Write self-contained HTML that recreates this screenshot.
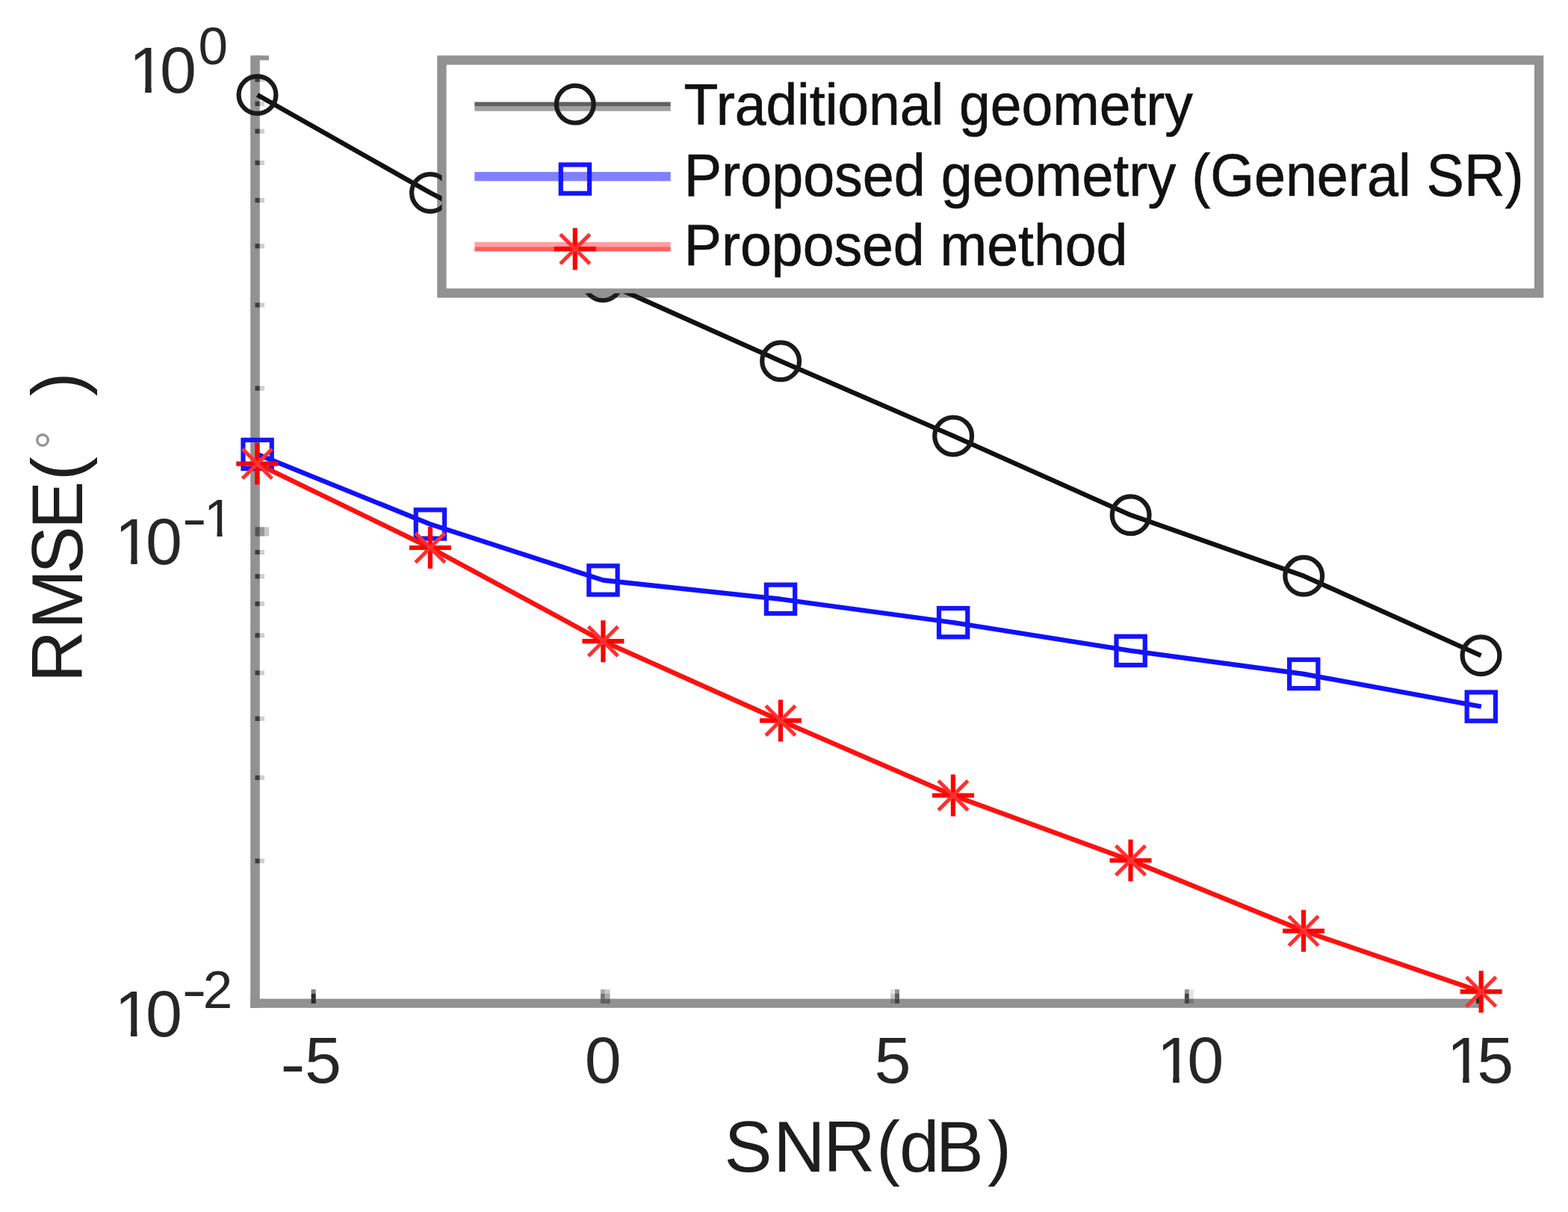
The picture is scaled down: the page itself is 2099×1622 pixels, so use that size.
<!DOCTYPE html>
<html><head><meta charset="utf-8"><title>RMSE vs SNR</title><style>
html,body{margin:0;padding:0;background:#fff;width:2099px;height:1622px}
svg{display:block}
text{font-family:"Liberation Sans",Arial,Helvetica,sans-serif;fill:#262626}
</style></head><body>
<svg width="2099" height="1622" viewBox="0 0 2099 1622">
<rect width="2099" height="1622" fill="#fff"/>
<g id="axes">
<rect x="335.2" y="74.3" width="12.6" height="1274.5" fill="#929292"/>
<rect x="335.2" y="1336.6" width="1647" height="12.2" fill="#929292"/>
<rect x="416.6" y="1324.1" width="6.1" height="5.9" fill="#808080"/><rect x="416.6" y="1330.0" width="6.1" height="6.7" fill="#2a2a2a"/><rect x="416.6" y="1336.7" width="6.1" height="6.2" fill="#2a2a2a"/><rect x="804.0" y="1324.1" width="6.3" height="5.9" fill="#aaaaaa"/><rect x="804.0" y="1330.0" width="6.3" height="6.7" fill="#777777"/><rect x="804.0" y="1336.7" width="6.3" height="6.2" fill="#5e5e5e"/><rect x="810.3" y="1324.1" width="6.3" height="5.9" fill="#c8c8c8"/><rect x="810.3" y="1330.0" width="6.3" height="6.7" fill="#aaaaaa"/><rect x="810.3" y="1336.7" width="6.3" height="6.2" fill="#5e5e5e"/><rect x="1192.1" y="1324.1" width="5.9" height="5.9" fill="#e3e3e3"/><rect x="1192.1" y="1330.0" width="5.9" height="6.7" fill="#c8c8c8"/><rect x="1192.1" y="1336.7" width="5.9" height="6.2" fill="#777777"/><rect x="1198.0" y="1324.1" width="5.9" height="5.9" fill="#8e8e8e"/><rect x="1198.0" y="1330.0" width="5.9" height="6.7" fill="#5c5c5c"/><rect x="1198.0" y="1336.7" width="5.9" height="6.2" fill="#424242"/><rect x="1585.9" y="1324.1" width="5.9" height="5.9" fill="#8e8e8e"/><rect x="1585.9" y="1330.0" width="5.9" height="6.7" fill="#424242"/><rect x="1585.9" y="1336.7" width="5.9" height="6.2" fill="#424242"/><rect x="1591.8" y="1324.1" width="6.1" height="5.9" fill="#e3e3e3"/><rect x="1591.8" y="1330.0" width="6.1" height="6.7" fill="#e3e3e3"/><rect x="1591.8" y="1336.7" width="6.1" height="6.2" fill="#777777"/><rect x="1976.0" y="1324.1" width="6.0" height="5.9" fill="#808080"/><rect x="1976.0" y="1330.0" width="6.0" height="6.7" fill="#2a2a2a"/><rect x="1976.0" y="1336.7" width="6.0" height="6.2" fill="#2a2a2a"/>
<rect x="341.5" y="74.3" width="18.5" height="6.3" fill="#929292"/>
<rect x="341.5" y="705.3" width="6.3" height="12.3" fill="#555"/><rect x="347.8" y="705.3" width="6.3" height="12.3" fill="#999"/><rect x="354.1" y="705.3" width="6" height="12.3" fill="#c8c8c8"/>
<rect x="341.5" y="516.6" width="6.3" height="6.2" fill="#3c3c3c"/><rect x="347.8" y="516.6" width="6.2" height="6.2" fill="#cfcfcf"/>
<rect x="341.5" y="405.2" width="6.3" height="6.2" fill="#3c3c3c"/><rect x="347.8" y="405.2" width="6.2" height="6.2" fill="#cfcfcf"/>
<rect x="341.5" y="326.2" width="6.3" height="6.2" fill="#3c3c3c"/><rect x="347.8" y="326.2" width="6.2" height="6.2" fill="#cfcfcf"/>
<rect x="341.5" y="264.9" width="6.3" height="6.2" fill="#3c3c3c"/><rect x="347.8" y="264.9" width="6.2" height="6.2" fill="#cfcfcf"/>
<rect x="341.5" y="214.8" width="6.3" height="6.2" fill="#3c3c3c"/><rect x="347.8" y="214.8" width="6.2" height="6.2" fill="#cfcfcf"/>
<rect x="341.5" y="172.5" width="6.3" height="6.2" fill="#3c3c3c"/><rect x="347.8" y="172.5" width="6.2" height="6.2" fill="#cfcfcf"/>
<rect x="341.5" y="135.8" width="6.3" height="6.2" fill="#3c3c3c"/><rect x="347.8" y="135.8" width="6.2" height="6.2" fill="#cfcfcf"/>
<rect x="341.5" y="103.4" width="6.3" height="6.2" fill="#3c3c3c"/><rect x="347.8" y="103.4" width="6.2" height="6.2" fill="#cfcfcf"/>
<rect x="341.5" y="1149.1" width="6.3" height="6.2" fill="#3c3c3c"/><rect x="347.8" y="1149.1" width="6.2" height="6.2" fill="#cfcfcf"/>
<rect x="341.5" y="1037.7" width="6.3" height="6.2" fill="#3c3c3c"/><rect x="347.8" y="1037.7" width="6.2" height="6.2" fill="#cfcfcf"/>
<rect x="341.5" y="958.7" width="6.3" height="6.2" fill="#3c3c3c"/><rect x="347.8" y="958.7" width="6.2" height="6.2" fill="#cfcfcf"/>
<rect x="341.5" y="897.4" width="6.3" height="6.2" fill="#3c3c3c"/><rect x="347.8" y="897.4" width="6.2" height="6.2" fill="#cfcfcf"/>
<rect x="341.5" y="847.3" width="6.3" height="6.2" fill="#3c3c3c"/><rect x="347.8" y="847.3" width="6.2" height="6.2" fill="#cfcfcf"/>
<rect x="341.5" y="805.0" width="6.3" height="6.2" fill="#3c3c3c"/><rect x="347.8" y="805.0" width="6.2" height="6.2" fill="#cfcfcf"/>
<rect x="341.5" y="768.3" width="6.3" height="6.2" fill="#3c3c3c"/><rect x="347.8" y="768.3" width="6.2" height="6.2" fill="#cfcfcf"/>
<rect x="341.5" y="735.9" width="6.3" height="6.2" fill="#3c3c3c"/><rect x="347.8" y="735.9" width="6.2" height="6.2" fill="#cfcfcf"/>
</g>
<polyline points="344.5,127 576,258 807,377 1045.1,483.3 1276.1,583.4 1513.6,689.3 1745.2,770.8 1982.5,877.3" fill="none" stroke="#111" stroke-width="6.4" stroke-linejoin="round"/>
<g><circle cx="344.5" cy="127" r="24.9" fill="none" stroke="#1a1a1a" stroke-width="6.2"/><circle cx="576" cy="258" r="24.9" fill="none" stroke="#1a1a1a" stroke-width="6.2"/><circle cx="807" cy="377" r="24.9" fill="none" stroke="#1a1a1a" stroke-width="6.2"/><circle cx="1045.1" cy="483.3" r="24.9" fill="none" stroke="#1a1a1a" stroke-width="6.2"/><circle cx="1276.1" cy="583.4" r="24.9" fill="none" stroke="#1a1a1a" stroke-width="6.2"/><circle cx="1513.6" cy="689.3" r="24.9" fill="none" stroke="#1a1a1a" stroke-width="6.2"/><circle cx="1745.2" cy="770.8" r="24.9" fill="none" stroke="#1a1a1a" stroke-width="6.2"/><circle cx="1982.5" cy="877.3" r="24.9" fill="none" stroke="#1a1a1a" stroke-width="6.2"/></g>
<polyline points="344.6,608 575.9,701.5 807.5,776.5 1045,801.8 1276.1,833.2 1513.6,870.9 1745.2,902 1982.8,945.6" fill="none" stroke="#1010ff" stroke-width="6.4" stroke-linejoin="round"/>
<g><rect x="325.45" y="588.85" width="38.3" height="38.3" fill="none" stroke="#1515ff" stroke-width="6.2"/><rect x="556.75" y="682.35" width="38.3" height="38.3" fill="none" stroke="#1515ff" stroke-width="6.2"/><rect x="788.35" y="757.35" width="38.3" height="38.3" fill="none" stroke="#1515ff" stroke-width="6.2"/><rect x="1025.85" y="782.65" width="38.3" height="38.3" fill="none" stroke="#1515ff" stroke-width="6.2"/><rect x="1256.95" y="814.05" width="38.3" height="38.3" fill="none" stroke="#1515ff" stroke-width="6.2"/><rect x="1494.45" y="851.75" width="38.3" height="38.3" fill="none" stroke="#1515ff" stroke-width="6.2"/><rect x="1726.05" y="882.85" width="38.3" height="38.3" fill="none" stroke="#1515ff" stroke-width="6.2"/><rect x="1963.65" y="926.45" width="38.3" height="38.3" fill="none" stroke="#1515ff" stroke-width="6.2"/></g>
<polyline points="344.3,620.6 575.9,733 807.4,858.2 1044.9,964.4 1275.9,1064.5 1513.5,1151.5 1745,1245.8 1982.7,1327.2" fill="none" stroke="#ff1010" stroke-width="6.4" stroke-linejoin="round"/>
<g><path d="M344.3,592.6V648.6M316.3,620.6H372.3" stroke="#ff0000" stroke-width="6.2" fill="none"/><path d="M324.5,600.8L364.1,640.4M324.5,640.4L364.1,600.8" stroke="#ff3030" stroke-width="5" fill="none"/><path d="M575.9,705V761M547.9,733H603.9" stroke="#ff0000" stroke-width="6.2" fill="none"/><path d="M556.1,713.2L595.7,752.8M556.1,752.8L595.7,713.2" stroke="#ff3030" stroke-width="5" fill="none"/><path d="M807.4,830.2V886.2M779.4,858.2H835.4" stroke="#ff0000" stroke-width="6.2" fill="none"/><path d="M787.6,838.4L827.2,878.0M787.6,878.0L827.2,838.4" stroke="#ff3030" stroke-width="5" fill="none"/><path d="M1044.9,936.4V992.4M1016.9000000000001,964.4H1072.9" stroke="#ff0000" stroke-width="6.2" fill="none"/><path d="M1025.1,944.6L1064.7,984.2M1025.1,984.2L1064.7,944.6" stroke="#ff3030" stroke-width="5" fill="none"/><path d="M1275.9,1036.5V1092.5M1247.9,1064.5H1303.9" stroke="#ff0000" stroke-width="6.2" fill="none"/><path d="M1256.1,1044.7L1295.7,1084.3M1256.1,1084.3L1295.7,1044.7" stroke="#ff3030" stroke-width="5" fill="none"/><path d="M1513.5,1123.5V1179.5M1485.5,1151.5H1541.5" stroke="#ff0000" stroke-width="6.2" fill="none"/><path d="M1493.7,1131.7L1533.3,1171.3M1493.7,1171.3L1533.3,1131.7" stroke="#ff3030" stroke-width="5" fill="none"/><path d="M1745,1217.8V1273.8M1717,1245.8H1773" stroke="#ff0000" stroke-width="6.2" fill="none"/><path d="M1725.2,1226.0L1764.8,1265.6M1725.2,1265.6L1764.8,1226.0" stroke="#ff3030" stroke-width="5" fill="none"/><path d="M1982.7,1299.2V1355.2M1954.7,1327.2H2010.7" stroke="#ff0000" stroke-width="6.2" fill="none"/><path d="M1962.9,1307.4L2002.5,1347.0M1962.9,1347.0L2002.5,1307.4" stroke="#ff3030" stroke-width="5" fill="none"/></g>
<rect x="591.4" y="80.5" width="1468.7" height="311.8" fill="#fff" stroke="#929292" stroke-width="12.4"/>
<rect x="635.3" y="136.5" width="262.4" height="6.1" fill="#606060"/><rect x="635.3" y="142.6" width="262.4" height="6.1" fill="#a0a0a0"/>
<rect x="635.3" y="230.1" width="262.4" height="12.2" fill="#8080ff"/>
<rect x="635.3" y="324" width="262.4" height="6.2" fill="#ffa0a0"/><rect x="635.3" y="330.2" width="262.4" height="6.2" fill="#ff6060"/>
<circle cx="769.8" cy="139.6" r="24.9" fill="none" stroke="#1a1a1a" stroke-width="6.2"/><rect x="750.75" y="220.45" width="38.3" height="38.3" fill="none" stroke="#1515ff" stroke-width="6.2"/><path d="M769.8,305.2V361.2M741.8,333.2H797.8" stroke="#ff0000" stroke-width="6.2" fill="none"/><path d="M750.0,313.4L789.6,353.0M750.0,353.0L789.6,313.4" stroke="#ff3030" stroke-width="5" fill="none"/>
<g clip-path="url(#legOuter)"><polyline points="344.5,127 576,258 807,377 1045.1,483.3" fill="none" stroke="#111" stroke-width="6.4" stroke-linejoin="round"/><circle cx="576" cy="258" r="24.9" fill="none" stroke="#1a1a1a" stroke-width="6.2"/><circle cx="807" cy="377" r="24.9" fill="none" stroke="#1a1a1a" stroke-width="6.2"/></g>
<text transform="translate(915.6 167.2) scale(1 1.045)" font-size="75.05" style="fill:#111;stroke:#111;stroke-width:0.7">Traditional geometry</text>
<text transform="translate(915.8 261.9) scale(1 1.045)" font-size="75.46" style="fill:#111;stroke:#111;stroke-width:0.7">Proposed geometry (General SR)</text>
<text transform="translate(915.8 354.8) scale(1 1.045)" font-size="75.2" style="fill:#111;stroke:#111;stroke-width:0.7">Proposed method</text>
<text transform="translate(375.3 1453.5) scale(1.14 1)" font-size="88">-</text>
<text x="407.9" y="1448.5" font-size="88">5</text>
<text x="782.7" y="1448.5" font-size="88">0</text>
<text x="1170.5" y="1448.5" font-size="88">5</text>
<text x="1548.5 1589.3" y="1448.5" font-size="88" clip-path="url(#c1)">10</text>
<text x="1936.5 1977.2" y="1448.5" font-size="88" clip-path="url(#c2)">15</text>
<text x="172.5 214.1" y="123.9" font-size="88" clip-path="url(#c3)">10</text>
<text x="153.5 195.0" y="755" font-size="88" clip-path="url(#c4)">10</text>
<text x="153.3 194.9" y="1387" font-size="88" clip-path="url(#c5)">10</text>
<text x="265.4" y="85.7" font-size="71">0</text>
<text transform="translate(243.4 717.9) scale(1.42 1)" font-size="71">-</text>
<text x="273.1" y="717.9" font-size="71" clip-path="url(#c6)">1</text>
<text transform="translate(243.2 1348.9) scale(1.42 1)" font-size="71">-</text>
<text x="271.7" y="1348.9" font-size="71">2</text>
<text x="969.5 1035.3 1102.2 1173.0 1204.0 1252.7 1322.1" y="1567.6" font-size="96" style="fill:#1e1e1e">SNR(dB)</text>
<g transform="translate(110.2 904.8) rotate(-90)"><text y="0" font-size="96" style="fill:#1e1e1e"><tspan x="-8.4 62.9 136.85 196.9 261.45">RMSE(</tspan><tspan x="303" y="-17.4" font-size="64" style="fill:#949494">°</tspan><tspan x="374.65" y="0">)</tspan></text></g>
<defs><clipPath id="legOuter"><rect x="585.2" y="74.4" width="6.3" height="324.2"/><rect x="585.2" y="392.4" width="1481" height="6.2"/></clipPath><clipPath id="c1"><rect x="1508.5" y="1272.5" width="264.0" height="168.4"/><rect x="1570.2" y="1439.7" width="8.5" height="11.8"/><rect x="1594.6" y="1439.7" width="176.0" height="39.6"/></clipPath><clipPath id="c2"><rect x="1896.5" y="1272.5" width="264.0" height="168.4"/><rect x="1958.2" y="1439.7" width="8.5" height="11.8"/><rect x="1982.6" y="1439.7" width="176.0" height="39.6"/></clipPath><clipPath id="c3"><rect x="132.5" y="-52.1" width="264.0" height="168.4"/><rect x="194.2" y="115.1" width="8.5" height="11.8"/><rect x="218.6" y="115.1" width="176.0" height="39.6"/></clipPath><clipPath id="c4"><rect x="113.5" y="579.0" width="264.0" height="168.4"/><rect x="175.2" y="746.2" width="8.5" height="11.8"/><rect x="199.6" y="746.2" width="176.0" height="39.6"/></clipPath><clipPath id="c5"><rect x="113.3" y="1211.0" width="264.0" height="168.4"/><rect x="175.0" y="1378.2" width="8.5" height="11.8"/><rect x="199.4" y="1378.2" width="176.0" height="39.6"/></clipPath><clipPath id="c6"><rect x="233.1" y="575.9" width="213.0" height="135.9"/><rect x="290.5" y="710.8" width="7.0" height="10.1"/><rect x="310.6" y="710.8" width="142.0" height="31.9"/></clipPath></defs>
</svg>
</body></html>
